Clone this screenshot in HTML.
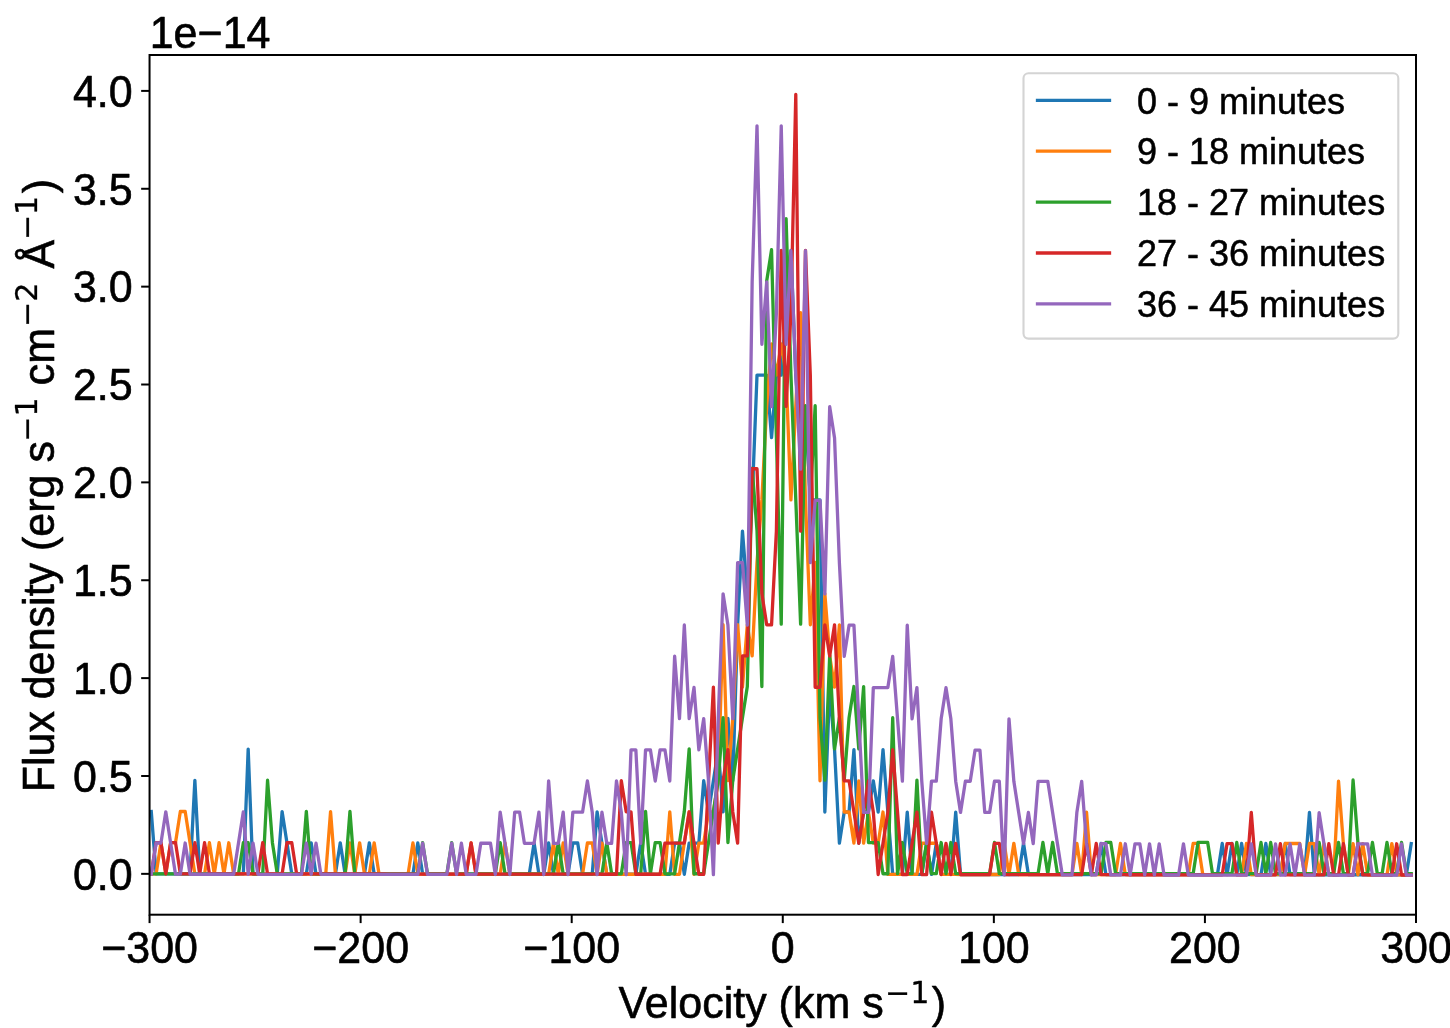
<!DOCTYPE html>
<html lang="en">
<head>
<meta charset="utf-8">
<title>Flux density vs velocity</title>
<style>
html,body{margin:0;padding:0;background:#fff;}
body{width:1450px;height:1028px;overflow:hidden;}
svg{display:block;}
text{font-family:"Liberation Sans", "DejaVu Sans", sans-serif;fill:#000;stroke:#000;stroke-width:0.6px;stroke-linejoin:round;}
.t{font-size:43px;}
.s{font-size:30.1px;font-family:"DejaVu Sans",sans-serif;stroke-width:0.3px;}
.l{font-size:36px;stroke-width:0.5px;}
.d{fill:none;stroke-width:3.3;stroke-linejoin:round;stroke-linecap:square;}
</style>
</head>
<body>
<svg width="1450" height="1028" viewBox="0 0 1450 1028">
<rect x="0" y="0" width="1450" height="1028" fill="#ffffff"/>
<defs><clipPath id="axclip"><rect x="149.55" y="55" width="1266.45" height="859.7"/></clipPath></defs>
<g clip-path="url(#axclip)">
<polyline class="d" stroke="#1f77b4" points="151.26,811.5 156.11,873.9 160.95,873.91 165.8,873.91 170.64,873.91 175.49,873.92 180.34,873.92 185.18,873.92 190.03,873.93 194.87,780.33 199.72,873.93 204.57,873.94 209.41,873.94 214.26,873.94 219.1,873.95 223.95,873.95 228.8,873.96 233.64,873.96 238.49,873.96 243.33,873.97 248.18,749.17 253.03,873.97 257.87,873.98 262.72,873.98 267.56,873.98 272.41,873.99 277.26,873.99 282.1,811.59 286.95,842.8 291.79,874 296.64,874 301.49,874.01 306.33,874.01 311.18,842.81 316.02,874.02 320.87,874.02 325.72,874.02 330.56,874.03 335.41,874.03 340.25,842.83 345.1,874.04 349.95,874.04 354.79,874.04 359.64,874.05 364.48,874.05 369.33,842.86 374.18,874.06 379.02,874.06 383.87,874.07 388.71,874.07 393.56,874.07 398.41,874.08 403.25,874.08 408.1,874.08 412.94,874.09 417.79,842.89 422.64,874.09 427.48,874.1 432.33,874.1 437.17,874.1 442.02,874.11 446.87,874.11 451.71,874.11 456.56,874.12 461.4,874.12 466.25,874.12 471.1,874.13 475.94,874.13 480.79,874.13 485.63,874.14 490.48,874.14 495.33,874.14 500.17,874.15 505.02,874.15 509.86,874.15 514.71,874.16 519.56,874.16 524.4,874.17 529.25,874.17 534.09,842.97 538.94,874.18 543.79,874.18 548.63,842.98 553.48,874.19 558.32,874.19 563.17,874.19 568.02,874.2 572.86,843 577.71,843 582.55,874.21 587.4,874.21 592.25,874.21 597.09,811.82 601.94,843.02 606.78,874.22 611.63,874.23 616.48,874.23 621.32,874.23 626.17,874.24 631.01,874.24 635.86,874.24 640.71,843.05 645.55,874.25 650.4,874.25 655.24,874.26 660.09,874.26 664.94,874.27 669.78,874.27 674.63,843.07 679.47,843.08 684.32,874.28 689.17,843.08 694.01,843.09 698.86,843.09 703.7,780.69 708.55,811.9 713.4,780.7 718.24,749.5 723.09,811.91 727.93,718.31 732.78,780.71 737.63,624.72 742.47,531.12 747.32,593.52 752.16,499.93 757.01,375.13 761.86,375.13 766.7,375.14 771.55,437.54 776.39,375.14 781.24,375.15 786.09,312.75 790.93,250.35 795.78,375.16 800.62,437.56 805.47,406.37 810.32,499.97 815.16,499.97 820.01,499.98 824.85,811.98 829.7,687.18 834.55,749.59 839.39,843.19 844.24,811.99 849.08,812 853.93,749.6 858.78,843.2 863.62,812.01 868.47,812.01 873.31,780.81 878.16,812.02 883.01,749.62 887.85,812.02 892.7,874.43 897.54,874.43 902.39,874.43 907.24,812.04 912.08,874.44 916.93,874.44 921.77,874.45 926.62,843.25 931.47,874.45 936.31,843.26 941.16,874.46 946,874.46 950.85,874.47 955.7,812.07 960.54,874.48 965.39,874.48 970.23,874.48 975.08,874.49 979.93,874.49 984.77,874.49 989.62,874.5 994.46,874.5 999.31,874.5 1004.16,874.51 1009,874.51 1013.85,874.51 1018.69,874.52 1023.54,843.32 1028.39,874.52 1033.23,874.53 1038.08,874.53 1042.92,874.53 1047.77,874.54 1052.62,874.54 1057.46,874.54 1062.31,874.55 1067.15,874.55 1072,874.55 1076.85,874.56 1081.69,874.56 1086.54,874.56 1091.38,874.57 1096.23,874.57 1101.08,843.38 1105.92,874.58 1110.77,874.58 1115.61,874.59 1120.46,874.59 1125.31,874.59 1130.15,874.6 1135,874.6 1139.84,874.6 1144.69,874.61 1149.54,874.61 1154.38,874.61 1159.23,874.62 1164.07,874.62 1168.92,874.62 1173.77,874.63 1178.61,874.63 1183.46,874.63 1188.3,874.64 1193.15,874.64 1198,874.64 1202.84,874.65 1207.69,874.65 1212.53,874.65 1217.38,874.66 1222.23,843.46 1227.07,874.66 1231.92,843.47 1236.76,874.67 1241.61,843.48 1246.46,874.68 1251.3,874.68 1256.15,874.69 1260.99,874.69 1265.84,843.49 1270.69,874.7 1275.53,874.7 1280.38,874.7 1285.22,843.51 1290.07,874.71 1294.92,874.71 1299.76,874.72 1304.61,874.72 1309.45,812.32 1314.3,874.73 1319.15,874.73 1323.99,874.73 1328.84,874.74 1333.68,874.74 1338.53,874.74 1343.38,874.75 1348.22,874.75 1353.07,874.75 1357.91,874.76 1362.76,874.76 1367.61,874.76 1372.45,874.77 1377.3,874.77 1382.14,874.78 1386.99,874.78 1391.84,874.78 1396.68,874.79 1401.53,874.79 1406.37,874.79 1411.22,843.6"/>
<polyline class="d" stroke="#ff7f0e" points="151.26,873.9 156.11,873.9 160.95,842.71 165.8,873.91 170.64,842.71 175.49,842.72 180.34,811.52 185.18,811.52 190.03,842.73 194.87,873.93 199.72,873.93 204.57,873.94 209.41,842.74 214.26,873.94 219.1,842.75 223.95,873.95 228.8,842.76 233.64,873.96 238.49,873.96 243.33,873.97 248.18,873.97 253.03,873.97 257.87,873.98 262.72,873.98 267.56,873.98 272.41,873.99 277.26,873.99 282.1,873.99 286.95,874 291.79,874 296.64,874 301.49,874.01 306.33,874.01 311.18,874.01 316.02,874.02 320.87,874.02 325.72,874.02 330.56,811.63 335.41,874.03 340.25,874.03 345.1,874.04 349.95,842.84 354.79,874.04 359.64,842.85 364.48,874.05 369.33,874.06 374.18,842.86 379.02,874.06 383.87,874.07 388.71,874.07 393.56,874.07 398.41,874.08 403.25,874.08 408.1,874.08 412.94,842.89 417.79,874.09 422.64,874.09 427.48,874.1 432.33,874.1 437.17,874.1 442.02,874.11 446.87,874.11 451.71,874.11 456.56,874.12 461.4,874.12 466.25,874.12 471.1,842.93 475.94,874.13 480.79,874.13 485.63,874.14 490.48,874.14 495.33,874.14 500.17,874.15 505.02,842.95 509.86,874.15 514.71,874.16 519.56,874.16 524.4,874.17 529.25,874.17 534.09,874.17 538.94,874.18 543.79,874.18 548.63,874.18 553.48,842.99 558.32,874.19 563.17,842.99 568.02,874.2 572.86,874.2 577.71,874.2 582.55,874.21 587.4,843.01 592.25,843.01 597.09,874.22 601.94,843.02 606.78,874.22 611.63,874.23 616.48,874.23 621.32,874.23 626.17,874.24 631.01,874.24 635.86,874.24 640.71,874.25 645.55,874.25 650.4,874.25 655.24,874.26 660.09,874.26 664.94,874.27 669.78,811.87 674.63,874.27 679.47,874.28 684.32,843.08 689.17,811.88 694.01,874.29 698.86,843.09 703.7,843.09 708.55,811.9 713.4,811.9 718.24,780.7 723.09,624.71 727.93,780.71 732.78,718.31 737.63,624.72 742.47,687.12 747.32,624.72 752.16,655.93 757.01,562.33 761.86,499.93 766.7,406.34 771.55,343.94 776.39,375.14 781.24,343.95 786.09,375.15 790.93,499.95 795.78,406.36 800.62,312.76 805.47,499.97 810.32,624.77 815.16,562.37 820.01,780.78 824.85,593.58 829.7,655.98 834.55,687.19 839.39,624.79 844.24,811.99 849.08,812 853.93,843.2 858.78,780.8 863.62,843.21 868.47,812.01 873.31,843.21 878.16,843.22 883.01,812.02 887.85,874.42 892.7,874.43 897.54,874.43 902.39,874.43 907.24,874.44 912.08,874.44 916.93,874.44 921.77,843.25 926.62,843.25 931.47,843.25 936.31,843.26 941.16,874.46 946,874.46 950.85,874.47 955.7,874.47 960.54,874.48 965.39,874.48 970.23,874.48 975.08,874.49 979.93,874.49 984.77,874.49 989.62,874.5 994.46,874.5 999.31,874.5 1004.16,843.31 1009,874.51 1013.85,843.31 1018.69,874.52 1023.54,874.52 1028.39,874.52 1033.23,874.53 1038.08,874.53 1042.92,874.53 1047.77,874.54 1052.62,874.54 1057.46,874.54 1062.31,874.55 1067.15,874.55 1072,874.55 1076.85,843.36 1081.69,874.56 1086.54,812.16 1091.38,874.57 1096.23,874.57 1101.08,874.58 1105.92,874.58 1110.77,874.58 1115.61,874.59 1120.46,843.39 1125.31,874.59 1130.15,874.6 1135,874.6 1139.84,874.6 1144.69,874.61 1149.54,874.61 1154.38,874.61 1159.23,874.62 1164.07,874.62 1168.92,874.62 1173.77,874.63 1178.61,874.63 1183.46,874.63 1188.3,874.64 1193.15,843.44 1198,843.44 1202.84,874.65 1207.69,874.65 1212.53,874.65 1217.38,874.66 1222.23,874.66 1227.07,874.66 1231.92,874.67 1236.76,874.67 1241.61,874.68 1246.46,843.48 1251.3,874.68 1256.15,874.69 1260.99,874.69 1265.84,874.69 1270.69,874.7 1275.53,874.7 1280.38,874.7 1285.22,843.51 1290.07,843.51 1294.92,843.51 1299.76,843.52 1304.61,874.72 1309.45,843.52 1314.3,843.53 1319.15,874.73 1323.99,843.53 1328.84,874.74 1333.68,874.74 1338.53,781.14 1343.38,843.55 1348.22,874.75 1353.07,843.55 1357.91,874.76 1362.76,843.56 1367.61,874.76 1372.45,874.77 1377.3,874.77 1382.14,874.78 1386.99,874.78 1391.84,843.58 1396.68,874.79 1401.53,874.79 1406.37,874.79 1411.22,874.8"/>
<polyline class="d" stroke="#2ca02c" points="151.26,873.9 156.11,873.9 160.95,873.9 165.8,873.9 170.64,873.9 175.49,873.89 180.34,873.89 185.18,873.89 190.03,873.89 194.87,873.89 199.72,873.89 204.57,873.89 209.41,873.89 214.26,873.89 219.1,873.88 223.95,873.88 228.8,873.88 233.64,873.88 238.49,873.88 243.33,842.68 248.18,842.68 253.03,873.88 257.87,873.87 262.72,873.87 267.56,780.27 272.41,842.67 277.26,873.87 282.1,873.87 286.95,873.87 291.79,873.87 296.64,873.87 301.49,873.86 306.33,811.46 311.18,873.86 316.02,873.86 320.87,873.86 325.72,873.86 330.56,873.86 335.41,873.86 340.25,873.86 345.1,873.85 349.95,811.45 354.79,873.85 359.64,873.85 364.48,873.85 369.33,873.85 374.18,873.85 379.02,873.85 383.87,873.84 388.71,873.84 393.56,873.84 398.41,873.84 403.25,873.84 408.1,873.84 412.94,873.84 417.79,873.84 422.64,842.64 427.48,873.83 432.33,873.83 437.17,873.83 442.02,873.83 446.87,873.83 451.71,842.63 456.56,873.83 461.4,873.83 466.25,873.83 471.1,873.82 475.94,873.82 480.79,873.82 485.63,873.82 490.48,873.82 495.33,873.82 500.17,842.62 505.02,873.82 509.86,873.82 514.71,873.81 519.56,873.81 524.4,873.81 529.25,873.81 534.09,873.81 538.94,873.81 543.79,873.81 548.63,873.81 553.48,873.8 558.32,842.6 563.17,873.8 568.02,873.8 572.86,873.8 577.71,873.8 582.55,873.8 587.4,873.8 592.25,873.8 597.09,873.79 601.94,873.79 606.78,842.59 611.63,873.79 616.48,873.79 621.32,873.79 626.17,842.59 631.01,842.59 635.86,873.79 640.71,873.78 645.55,811.38 650.4,873.78 655.24,842.58 660.09,842.58 664.94,873.78 669.78,873.78 674.63,873.78 679.47,842.57 684.32,811.37 689.17,748.97 694.01,873.77 698.86,873.77 703.7,873.77 708.55,842.57 713.4,811.37 718.24,780.17 723.09,717.76 727.93,842.56 732.78,780.16 737.63,748.96 742.47,717.76 747.32,686.56 752.16,468.16 757.01,530.56 761.86,686.56 766.7,280.95 771.55,249.75 776.39,436.95 781.24,624.15 786.09,218.55 790.93,374.55 795.78,499.35 800.62,624.15 805.47,405.74 810.32,499.34 815.16,405.74 820.01,717.74 824.85,780.14 829.7,655.34 834.55,748.94 839.39,717.74 844.24,780.14 849.08,717.73 853.93,686.53 858.78,748.93 863.62,686.53 868.47,842.53 873.31,842.53 878.16,842.53 883.01,873.73 887.85,873.73 892.7,717.72 897.54,873.72 902.39,842.52 907.24,873.72 912.08,873.72 916.93,780.12 921.77,873.72 926.62,842.52 931.47,873.72 936.31,873.71 941.16,842.51 946,873.71 950.85,842.51 955.7,873.71 960.54,873.71 965.39,873.71 970.23,873.71 975.08,873.7 979.93,873.7 984.77,873.7 989.62,873.7 994.46,842.5 999.31,873.7 1004.16,873.7 1009,873.7 1013.85,873.7 1018.69,873.69 1023.54,873.69 1028.39,873.69 1033.23,873.69 1038.08,873.69 1042.92,842.49 1047.77,873.69 1052.62,842.49 1057.46,873.69 1062.31,873.68 1067.15,873.68 1072,873.68 1076.85,873.68 1081.69,873.68 1086.54,873.68 1091.38,873.68 1096.23,873.68 1101.08,873.67 1105.92,842.47 1110.77,842.47 1115.61,873.67 1120.46,873.67 1125.31,873.67 1130.15,873.67 1135,873.67 1139.84,873.67 1144.69,873.66 1149.54,873.66 1154.38,873.66 1159.23,873.66 1164.07,873.66 1168.92,873.66 1173.77,873.66 1178.61,873.66 1183.46,873.66 1188.3,873.65 1193.15,873.65 1198,842.45 1202.84,842.45 1207.69,842.45 1212.53,873.65 1217.38,873.65 1222.23,873.65 1227.07,873.65 1231.92,873.64 1236.76,842.44 1241.61,873.64 1246.46,873.64 1251.3,873.64 1256.15,873.64 1260.99,842.44 1265.84,873.64 1270.69,842.43 1275.53,873.63 1280.38,873.63 1285.22,873.63 1290.07,873.63 1294.92,873.63 1299.76,873.63 1304.61,873.63 1309.45,873.63 1314.3,873.62 1319.15,842.42 1323.99,873.62 1328.84,873.62 1333.68,873.62 1338.53,842.42 1343.38,873.62 1348.22,873.62 1353.07,780.02 1357.91,842.41 1362.76,873.61 1367.61,873.61 1372.45,842.41 1377.3,873.61 1382.14,873.61 1386.99,842.41 1391.84,873.61 1396.68,873.6 1401.53,842.4 1406.37,873.6 1411.22,873.6"/>
<polyline class="d" stroke="#d62728" points="151.26,873.8 156.11,842.6 160.95,842.61 165.8,873.81 170.64,842.62 175.49,842.62 180.34,873.83 185.18,873.83 190.03,873.84 194.87,842.64 199.72,873.85 204.57,842.65 209.41,873.86 214.26,873.86 219.1,873.86 223.95,873.87 228.8,873.87 233.64,873.88 238.49,873.88 243.33,873.89 248.18,873.89 253.03,873.9 257.87,873.9 262.72,842.71 267.56,873.91 272.41,873.91 277.26,873.92 282.1,873.92 286.95,842.73 291.79,842.73 296.64,873.94 301.49,873.94 306.33,873.95 311.18,873.95 316.02,873.96 320.87,873.96 325.72,873.97 330.56,873.97 335.41,873.97 340.25,873.98 345.1,873.98 349.95,873.99 354.79,873.99 359.64,874 364.48,874 369.33,874.01 374.18,874.01 379.02,874.02 383.87,874.02 388.71,874.03 393.56,874.03 398.41,874.03 403.25,874.04 408.1,874.04 412.94,874.05 417.79,874.05 422.64,874.06 427.48,874.06 432.33,874.07 437.17,874.07 442.02,874.08 446.87,874.08 451.71,874.08 456.56,874.09 461.4,874.09 466.25,874.1 471.1,842.9 475.94,874.11 480.79,874.11 485.63,874.12 490.48,874.12 495.33,874.13 500.17,874.13 505.02,874.14 509.86,874.14 514.71,874.14 519.56,874.15 524.4,874.15 529.25,874.16 534.09,874.16 538.94,874.17 543.79,874.17 548.63,874.18 553.48,874.18 558.32,874.19 563.17,874.19 568.02,874.2 572.86,874.2 577.71,874.2 582.55,874.21 587.4,874.21 592.25,874.22 597.09,874.22 601.94,874.23 606.78,874.23 611.63,874.24 616.48,874.24 621.32,780.65 626.17,811.85 631.01,811.85 635.86,874.26 640.71,874.26 645.55,874.27 650.4,874.27 655.24,874.28 660.09,874.28 664.94,843.09 669.78,843.09 674.63,843.1 679.47,843.1 684.32,843.11 689.17,811.91 694.01,843.11 698.86,874.32 703.7,874.32 708.55,780.73 713.4,687.13 718.24,843.14 723.09,780.74 727.93,749.55 732.78,811.95 737.63,843.16 742.47,655.96 747.32,655.96 752.16,468.77 757.01,468.77 761.86,593.58 766.7,624.78 771.55,624.79 776.39,531.19 781.24,250.4 786.09,406.4 790.93,312.81 795.78,94.41 800.62,531.22 805.47,250.42 810.32,375.22 815.16,687.23 820.01,687.23 824.85,624.84 829.7,656.04 834.55,624.85 839.39,718.45 844.24,780.86 849.08,780.86 853.93,812.07 858.78,843.27 863.62,812.08 868.47,780.88 873.31,812.08 878.16,874.49 883.01,843.29 887.85,812.1 892.7,749.7 897.54,812.11 902.39,874.51 907.24,874.52 912.08,843.32 916.93,812.13 921.77,874.53 926.62,874.53 931.47,812.14 936.31,843.34 941.16,874.55 946,843.35 950.85,874.56 955.7,843.36 960.54,874.57 965.39,874.57 970.23,874.58 975.08,874.58 979.93,874.59 984.77,874.59 989.62,874.59 994.46,843.4 999.31,843.4 1004.16,874.61 1009,874.61 1013.85,874.62 1018.69,874.62 1023.54,874.63 1028.39,874.63 1033.23,874.64 1038.08,874.64 1042.92,874.65 1047.77,874.65 1052.62,874.65 1057.46,874.66 1062.31,874.66 1067.15,874.67 1072,874.67 1076.85,874.68 1081.69,874.68 1086.54,843.49 1091.38,874.69 1096.23,843.5 1101.08,874.7 1105.92,874.7 1110.77,874.71 1115.61,874.71 1120.46,874.72 1125.31,874.72 1130.15,874.73 1135,874.73 1139.84,874.74 1144.69,874.74 1149.54,874.75 1154.38,874.75 1159.23,874.76 1164.07,874.76 1168.92,874.76 1173.77,874.77 1178.61,874.77 1183.46,874.78 1188.3,874.78 1193.15,874.79 1198,874.79 1202.84,874.8 1207.69,874.8 1212.53,874.81 1217.38,874.81 1222.23,874.82 1227.07,843.62 1231.92,843.62 1236.76,874.83 1241.61,874.83 1246.46,874.84 1251.3,812.44 1256.15,874.85 1260.99,874.85 1265.84,874.86 1270.69,874.86 1275.53,874.87 1280.38,843.67 1285.22,874.87 1290.07,874.88 1294.92,874.88 1299.76,874.89 1304.61,874.89 1309.45,874.9 1314.3,874.9 1319.15,874.91 1323.99,874.91 1328.84,843.72 1333.68,874.92 1338.53,874.93 1343.38,843.73 1348.22,874.93 1353.07,874.94 1357.91,843.74 1362.76,874.95 1367.61,874.95 1372.45,874.96 1377.3,874.96 1382.14,874.97 1386.99,874.97 1391.84,874.98 1396.68,843.78 1401.53,874.99 1406.37,874.99 1411.22,874.99"/>
<polyline class="d" stroke="#9467bd" points="151.26,874.2 156.11,843 160.95,843.01 165.8,811.81 170.64,843.02 175.49,874.22 180.34,874.22 185.18,843.03 190.03,874.23 194.87,874.23 199.72,874.24 204.57,874.24 209.41,874.25 214.26,874.25 219.1,874.25 223.95,874.26 228.8,874.26 233.64,874.27 238.49,843.07 243.33,811.87 248.18,874.28 253.03,843.08 257.87,874.28 262.72,874.29 267.56,874.29 272.41,874.3 277.26,874.3 282.1,874.3 286.95,874.31 291.79,874.31 296.64,874.31 301.49,874.32 306.33,843.12 311.18,874.33 316.02,843.13 320.87,874.33 325.72,874.34 330.56,874.34 335.41,874.35 340.25,874.35 345.1,874.35 349.95,874.36 354.79,874.36 359.64,874.36 364.48,874.37 369.33,874.37 374.18,874.38 379.02,874.38 383.87,874.38 388.71,874.39 393.56,874.39 398.41,874.4 403.25,874.4 408.1,874.4 412.94,874.41 417.79,874.41 422.64,843.21 427.48,874.42 432.33,874.42 437.17,874.43 442.02,874.43 446.87,874.43 451.71,843.24 456.56,874.44 461.4,843.24 466.25,874.45 471.1,874.45 475.94,874.46 480.79,843.26 485.63,843.26 490.48,843.27 495.33,874.47 500.17,812.08 505.02,843.28 509.86,874.48 514.71,812.09 519.56,812.09 524.4,843.29 529.25,843.3 534.09,843.3 538.94,812.11 543.79,874.51 548.63,780.91 553.48,843.32 558.32,843.32 563.17,812.13 568.02,874.53 572.86,812.13 577.71,812.14 582.55,812.14 587.4,780.94 592.25,812.15 597.09,874.55 601.94,812.16 606.78,843.36 611.63,843.36 616.48,780.97 621.32,812.17 626.17,874.58 631.01,749.78 635.86,749.78 640.71,843.39 645.55,749.79 650.4,749.79 655.24,781 660.09,749.8 664.94,749.81 669.78,781.01 674.63,656.21 679.47,718.62 684.32,625.02 689.17,718.62 694.01,687.43 698.86,749.83 703.7,718.64 708.55,781.04 713.4,874.64 718.24,718.65 723.09,593.85 727.93,625.06 732.78,718.66 737.63,562.66 742.47,562.67 747.32,625.07 752.16,281.87 757.01,125.88 761.86,344.28 766.7,281.89 771.55,406.69 776.39,313.09 781.24,125.9 786.09,344.3 790.93,250.71 795.78,375.51 800.62,469.11 805.47,250.72 810.32,562.72 815.16,500.32 820.01,500.33 824.85,593.93 829.7,406.74 834.55,437.94 839.39,562.74 844.24,656.35 849.08,625.15 853.93,625.16 858.78,718.76 863.62,812.36 868.47,812.37 873.31,687.57 878.16,687.57 883.01,687.58 887.85,687.58 892.7,656.39 897.54,718.79 902.39,781.19 907.24,625.2 912.08,718.8 916.93,687.6 921.77,781.21 926.62,843.61 931.47,781.22 936.31,781.22 941.16,718.82 946,687.63 950.85,718.83 955.7,781.24 960.54,812.44 965.39,781.24 970.23,781.25 975.08,750.05 979.93,750.05 984.77,812.46 989.62,812.46 994.46,781.27 999.31,781.27 1004.16,874.87 1009,718.88 1013.85,781.28 1018.69,812.49 1023.54,843.69 1028.39,812.49 1033.23,843.7 1038.08,781.3 1042.92,781.3 1047.77,781.31 1052.62,812.51 1057.46,843.72 1062.31,874.92 1067.15,874.92 1072,874.93 1076.85,812.53 1081.69,781.33 1086.54,843.74 1091.38,874.94 1096.23,874.95 1101.08,843.75 1105.92,843.75 1110.77,874.96 1115.61,874.96 1120.46,874.97 1125.31,843.77 1130.15,874.97 1135,843.78 1139.84,843.78 1144.69,874.98 1149.54,843.79 1154.38,874.99 1159.23,843.8 1164.07,875 1168.92,875 1173.77,875.01 1178.61,875.01 1183.46,843.82 1188.3,875.02 1193.15,875.02 1198,875.03 1202.84,875.03 1207.69,875.03 1212.53,875.04 1217.38,875.04 1222.23,875.05 1227.07,875.05 1231.92,875.05 1236.76,875.06 1241.61,875.06 1246.46,875.07 1251.3,843.87 1256.15,875.07 1260.99,875.08 1265.84,875.08 1270.69,875.08 1275.53,843.89 1280.38,875.09 1285.22,875.1 1290.07,843.9 1294.92,875.1 1299.76,843.91 1304.61,875.11 1309.45,875.11 1314.3,875.12 1319.15,812.72 1323.99,843.93 1328.84,875.13 1333.68,875.13 1338.53,875.14 1343.38,875.14 1348.22,875.15 1353.07,875.15 1357.91,843.95 1362.76,843.96 1367.61,843.96 1372.45,875.16 1377.3,875.17 1382.14,875.17 1386.99,875.18 1391.84,875.18 1396.68,875.18 1401.53,843.99 1406.37,875.19 1411.22,875.2"/>
</g>
<rect x="149.55" y="55" width="1266.45" height="859.7" fill="none" stroke="#000" stroke-width="2"/>
<g stroke="#000" stroke-width="2"><line x1="149.55" y1="914.7" x2="149.55" y2="923.1"/><line x1="360.62" y1="914.7" x2="360.62" y2="923.1"/><line x1="571.7" y1="914.7" x2="571.7" y2="923.1"/><line x1="782.78" y1="914.7" x2="782.78" y2="923.1"/><line x1="993.85" y1="914.7" x2="993.85" y2="923.1"/><line x1="1204.92" y1="914.7" x2="1204.92" y2="923.1"/><line x1="1416" y1="914.7" x2="1416" y2="923.1"/><line x1="141.15" y1="873.85" x2="149.55" y2="873.85"/><line x1="141.15" y1="775.98" x2="149.55" y2="775.98"/><line x1="141.15" y1="678.11" x2="149.55" y2="678.11"/><line x1="141.15" y1="580.24" x2="149.55" y2="580.24"/><line x1="141.15" y1="482.38" x2="149.55" y2="482.38"/><line x1="141.15" y1="384.51" x2="149.55" y2="384.51"/><line x1="141.15" y1="286.64" x2="149.55" y2="286.64"/><line x1="141.15" y1="188.77" x2="149.55" y2="188.77"/><line x1="141.15" y1="90.9" x2="149.55" y2="90.9"/></g>
<text class="t" transform="translate(149.55,962.5) scale(1,1.04)" text-anchor="middle">−300</text>
<text class="t" transform="translate(360.62,962.5) scale(1,1.04)" text-anchor="middle">−200</text>
<text class="t" transform="translate(571.7,962.5) scale(1,1.04)" text-anchor="middle">−100</text>
<text class="t" transform="translate(782.78,962.5) scale(1,1.04)" text-anchor="middle">0</text>
<text class="t" transform="translate(993.85,962.5) scale(1,1.04)" text-anchor="middle">100</text>
<text class="t" transform="translate(1204.92,962.5) scale(1,1.04)" text-anchor="middle">200</text>
<text class="t" transform="translate(1416,962.5) scale(1,1.04)" text-anchor="middle">300</text>
<text class="t" transform="translate(132.7,889.65) scale(1,1.04)" text-anchor="end">0.0</text>
<text class="t" transform="translate(132.7,791.78) scale(1,1.04)" text-anchor="end">0.5</text>
<text class="t" transform="translate(132.7,693.91) scale(1,1.04)" text-anchor="end">1.0</text>
<text class="t" transform="translate(132.7,596.04) scale(1,1.04)" text-anchor="end">1.5</text>
<text class="t" transform="translate(132.7,498.18) scale(1,1.04)" text-anchor="end">2.0</text>
<text class="t" transform="translate(132.7,400.31) scale(1,1.04)" text-anchor="end">2.5</text>
<text class="t" transform="translate(132.7,302.44) scale(1,1.04)" text-anchor="end">3.0</text>
<text class="t" transform="translate(132.7,204.57) scale(1,1.04)" text-anchor="end">3.5</text>
<text class="t" transform="translate(132.7,106.7) scale(1,1.04)" text-anchor="end">4.0</text>
<text class="t" transform="translate(149.7,48.2) scale(1,1.04)">1e−14</text>
<text class="t" transform="translate(618.5,1018.3) scale(1,1.04)">Velocity (km s</text>
<text class="s" x="885.1" y="1002.5">−1</text>
<text class="t" transform="translate(931.8,1018.3) scale(1,1.04)">)</text>
<g transform="translate(53.7,787.3) rotate(-90)">
<text class="t" transform="translate(-5,0) scale(1,1.04)">Flux density (erg s</text>
<text class="s" x="345.5" y="-16.5">−1</text>
<text class="t" transform="translate(402,0) scale(1,1.04)">cm</text>
<text class="s" x="460.4" y="-16.5">−2</text>
<text class="t" transform="translate(518.9,0) scale(1,1.04)">Å</text>
<text class="s" x="547.2" y="-16.5">−1</text>
<text class="t" transform="translate(594,0) scale(1,1.04)">)</text>
</g>
<rect x="1023.5" y="73.2" width="374.8" height="265.4" rx="5" ry="5" fill="#ffffff" fill-opacity="0.8" stroke="#d4d4d4" stroke-width="2.1"/>
<line x1="1037.5" y1="100.3" x2="1109.5" y2="100.3" stroke="#1f77b4" stroke-width="3.3" stroke-linecap="square"/>
<text class="l" x="1137" y="113.5">0 - 9 minutes</text>
<line x1="1037.5" y1="151.2" x2="1109.5" y2="151.2" stroke="#ff7f0e" stroke-width="3.3" stroke-linecap="square"/>
<text class="l" x="1137" y="164.4">9 - 18 minutes</text>
<line x1="1037.5" y1="202.1" x2="1109.5" y2="202.1" stroke="#2ca02c" stroke-width="3.3" stroke-linecap="square"/>
<text class="l" x="1137" y="215.3">18 - 27 minutes</text>
<line x1="1037.5" y1="253" x2="1109.5" y2="253" stroke="#d62728" stroke-width="3.3" stroke-linecap="square"/>
<text class="l" x="1137" y="266.2">27 - 36 minutes</text>
<line x1="1037.5" y1="303.9" x2="1109.5" y2="303.9" stroke="#9467bd" stroke-width="3.3" stroke-linecap="square"/>
<text class="l" x="1137" y="317.1">36 - 45 minutes</text>
</svg>
</body>
</html>
